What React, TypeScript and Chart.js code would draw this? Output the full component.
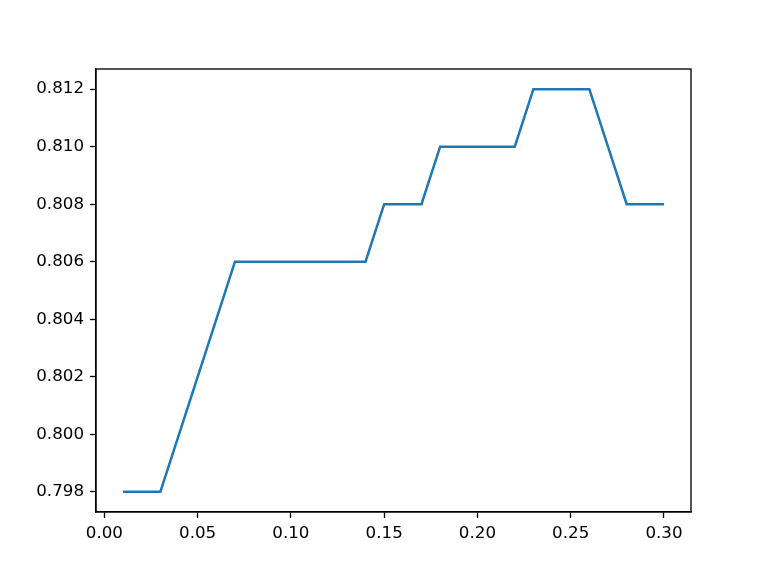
import React, { useEffect, useRef } from "react";
import { Chart, registerables } from "chart.js";

Chart.register(...registerables);

const xValues = [0.01, 0.02, 0.03, 0.04, 0.05, 0.06, 0.07, 0.08, 0.09, 0.10, 0.11, 0.12, 0.13, 0.14, 0.15, 0.16, 0.17, 0.18, 0.19, 0.20, 0.21, 0.22, 0.23, 0.24, 0.25, 0.26, 0.27, 0.28, 0.29, 0.30];
const yValues = [0.798, 0.798, 0.798, 0.800, 0.802, 0.804, 0.806, 0.806, 0.806, 0.806, 0.806, 0.806, 0.806, 0.806, 0.808, 0.808, 0.808, 0.810, 0.810, 0.810, 0.810, 0.810, 0.812, 0.812, 0.812, 0.812, 0.810, 0.808, 0.808, 0.808];
const xTicks = [0.0, 0.05, 0.1, 0.15, 0.2, 0.25, 0.3];
const yTicks = [0.798, 0.8, 0.802, 0.804, 0.806, 0.808, 0.81, 0.812];

const boxPlugin = {
  id: "box",
  afterDraw(chart: any) {
    const { ctx, chartArea } = chart;
    ctx.save();
    ctx.strokeStyle = "#000";
    ctx.lineWidth = 1.33;
    ctx.strokeRect(chartArea.left, chartArea.top, chartArea.right - chartArea.left, chartArea.bottom - chartArea.top);
    ctx.restore();
  },
};

export default function App() {
  const ref = useRef<HTMLCanvasElement>(null);
  useEffect(() => {
    document.body.style.margin = "0";
    const font = { family: "DejaVu Sans", size: 16.7 };
    const chart = new Chart(ref.current!, {
      type: "line",
      data: {
        datasets: [
          {
            data: xValues.map((x, i) => ({ x, y: yValues[i] })),
            borderColor: "#1f77b4",
            borderWidth: 2.5,
            pointRadius: 0,
            fill: false,
            tension: 0,
          },
        ],
      },
      options: {
        responsive: false,
        animation: false,
        layout: { padding: { top: 69, right: 77, left: 0, bottom: 0 } },
        plugins: { legend: { display: false }, tooltip: { enabled: false } },
        scales: {
          x: {
            type: "linear",
            min: -0.0045,
            max: 0.3145,
            afterBuildTicks: (s: any) => {
              s.ticks = xTicks.map((v) => ({ value: v }));
            },
            afterFit: (s: any) => {
              s.height = 64;
            },
            grid: { drawOnChartArea: false, drawTicks: true, tickLength: 6, tickColor: "#000", tickWidth: 1.33 },
            border: { display: true, color: "#000", width: 1.33 },
            ticks: {
              color: "#000",
              font,
              padding: 6,
              maxRotation: 0,
              autoSkip: false,
              callback: (v: any) => Number(v).toFixed(2),
            },
          },
          y: {
            type: "linear",
            min: 0.7973,
            max: 0.8127,
            afterBuildTicks: (s: any) => {
              s.ticks = yTicks.map((v) => ({ value: v }));
            },
            afterFit: (s: any) => {
              s.width = 96;
            },
            grid: { drawOnChartArea: false, drawTicks: true, tickLength: 6, tickColor: "#000", tickWidth: 1.33 },
            border: { display: true, color: "#000", width: 1.33 },
            ticks: {
              color: "#000",
              font,
              padding: 6,
              autoSkip: false,
              callback: (v: any) => Number(v).toFixed(3),
            },
          },
        },
      },
      plugins: [boxPlugin],
    });
    return () => chart.destroy();
  }, []);
  return <canvas ref={ref} width={768} height={576} style={{ display: "block" }} />;
}
